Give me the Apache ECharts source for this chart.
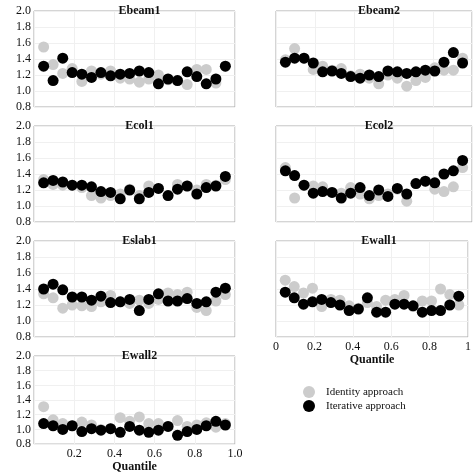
<!DOCTYPE html>
<html><head><meta charset="utf-8">
<script src="https://cdn.jsdelivr.net/npm/echarts@6/dist/echarts.min.js"></script>
<style>html,body{margin:0;padding:0;background:#fff}#c{width:474px;height:474px}</style>
</head><body><div id="c"></div>
<script>
const quantiles = Array.from({length:20}, (_, i) => +((i+1)/21).toFixed(3));
const panels = ["Ebeam1","Ebeam2","Ecol1","Ecol2","Eslab1","Ewall1","Ewall2"];
const identity = {
  Ebeam1:[1.55,1.33,1.22,1.28,1.12,1.25,1.21,1.25,1.16,1.15,1.11,1.15,1.20,1.14,1.13,1.08,1.27,1.27,1.10,1.31],
  Ebeam2:[1.39,1.53,1.41,1.27,1.31,1.26,1.28,1.19,1.21,1.16,1.09,1.20,1.16,1.06,1.13,1.17,1.29,1.26,1.26,1.41],
  Ecol1:[1.33,1.27,1.26,1.26,1.23,1.13,1.10,1.13,1.15,1.21,1.13,1.25,1.22,1.13,1.27,1.25,1.20,1.27,1.26,1.33],
  Ecol2:[1.48,1.10,1.26,1.25,1.24,1.17,1.16,1.23,1.15,1.09,1.13,1.15,1.21,1.06,1.28,1.31,1.21,1.18,1.24,1.48],
  Eslab1:[1.34,1.29,1.16,1.20,1.19,1.18,1.24,1.32,1.24,1.22,1.26,1.22,1.27,1.35,1.33,1.36,1.17,1.13,1.25,1.33],
  Ewall1:[1.51,1.43,1.35,1.41,1.18,1.27,1.26,1.19,1.16,1.23,1.18,1.26,1.27,1.32,1.18,1.25,1.25,1.40,1.33,1.20],
  Ewall2:[1.31,1.13,1.08,1.05,1.10,1.06,1.00,1.01,1.16,1.11,1.17,1.08,1.08,1.04,1.12,1.04,1.06,1.09,1.03,1.08]
};
const iterative = {
  Ebeam1:[1.31,1.13,1.41,1.23,1.21,1.17,1.23,1.19,1.21,1.22,1.25,1.23,1.09,1.15,1.13,1.24,1.18,1.09,1.15,1.31],
  Ebeam2:[1.36,1.41,1.41,1.35,1.24,1.25,1.22,1.18,1.16,1.20,1.18,1.25,1.24,1.22,1.24,1.26,1.25,1.36,1.48,1.35],
  Ecol1:[1.29,1.32,1.30,1.26,1.26,1.24,1.18,1.17,1.09,1.20,1.09,1.17,1.22,1.13,1.21,1.25,1.15,1.23,1.25,1.37],
  Ecol2:[1.44,1.38,1.26,1.16,1.18,1.17,1.10,1.16,1.23,1.13,1.20,1.12,1.22,1.15,1.28,1.31,1.29,1.40,1.44,1.57],
  Eslab1:[1.40,1.46,1.39,1.30,1.30,1.26,1.31,1.23,1.24,1.27,1.13,1.27,1.34,1.25,1.25,1.28,1.22,1.24,1.36,1.41],
  Ewall1:[1.36,1.29,1.21,1.24,1.27,1.23,1.20,1.13,1.15,1.29,1.11,1.11,1.21,1.21,1.19,1.11,1.13,1.13,1.20,1.31],
  Ewall2:[1.08,1.05,1.00,1.05,0.97,1.01,0.99,1.01,0.96,1.04,0.99,0.96,0.99,1.04,0.92,0.97,1.00,1.05,1.11,1.06]
};
const yTicks = [0.8,1.0,1.2,1.4,1.6,1.8,2.0];
const xTicks = [0,0.2,0.4,0.6,0.8,1.0];

const font = "Liberation Serif";
const tops = [11,126,241,356];
const grids=[], xAxes=[], yAxes=[], series=[], titles=[];
panels.forEach((p,i)=>{
  const col = i%2, row = Math.floor(i/2);
  const left = col===0 ? 34 : 276;
  const width = col===0 ? 201 : 196;
  grids.push({left:left, top:tops[row], width:width, height:96, show:true, borderColor:'#aaa', borderWidth:1, backgroundColor:'#fff'});
  titles.push({text:p, left:left+width/2, top:tops[row]-11, textAlign:'center',
    textStyle:{fontFamily:font, fontSize:12, fontWeight:'bold', color:'#111'}});
  const showX = (p==='Ewall1' || p==='Ewall2');
  xAxes.push({type:'value', gridIndex:i, min:0, max:1, interval:0.2,
    axisLine:{show:false}, axisTick:{show:false},
    splitLine:{show:true, lineStyle:{color:'#f0f0f0'}},
    axisLabel:{show:showX, fontFamily:font, fontSize:12, color:'#111', margin:4,
      showMinLabel: p==='Ewall1',
      formatter:v=> p==='Ewall1' ? (v===0?'0':(v===1?'1':v.toFixed(1))) : v.toFixed(1)},
    name: showX?'Quantile':'', nameLocation:'middle', nameGap:15,
    nameTextStyle:{fontFamily:font, fontSize:12, fontWeight:'bold', color:'#111'}});
  yAxes.push({type:'value', gridIndex:i, min:0.8, max:2.0, interval:0.2,
    axisLine:{show:false}, axisTick:{show:false},
    splitLine:{show:true, lineStyle:{color:'#f0f0f0'}},
    axisLabel:{show:col===0, fontFamily:font, fontSize:12, color:'#111', margin:3, formatter:v=>v.toFixed(1)}});
  series.push({name:'Identity approach', type:'scatter', xAxisIndex:i, yAxisIndex:i, symbolSize:11,
    itemStyle:{color:'#cccccc', opacity:1}, data:quantiles.map((q,k)=>[q, identity[p][k]])});
  series.push({name:'Iterative approach', type:'scatter', xAxisIndex:i, yAxisIndex:i, symbolSize:11,
    itemStyle:{color:'#000', opacity:1}, data:quantiles.map((q,k)=>[q, iterative[p][k]])});
});
const chart = echarts.init(document.getElementById('c'));
chart.setOption({
  animation:false,
  title:titles,
  grid:grids, xAxis:xAxes, yAxis:yAxes, series:series,
  legend:{data:['Identity approach','Iterative approach'], orient:'vertical', left:298, top:381,
    itemWidth:12, itemHeight:12, itemGap:2,
    textStyle:{fontFamily:font, fontSize:11, color:'#111', padding:[0,0,0,6]}}
});
</script></body></html>
